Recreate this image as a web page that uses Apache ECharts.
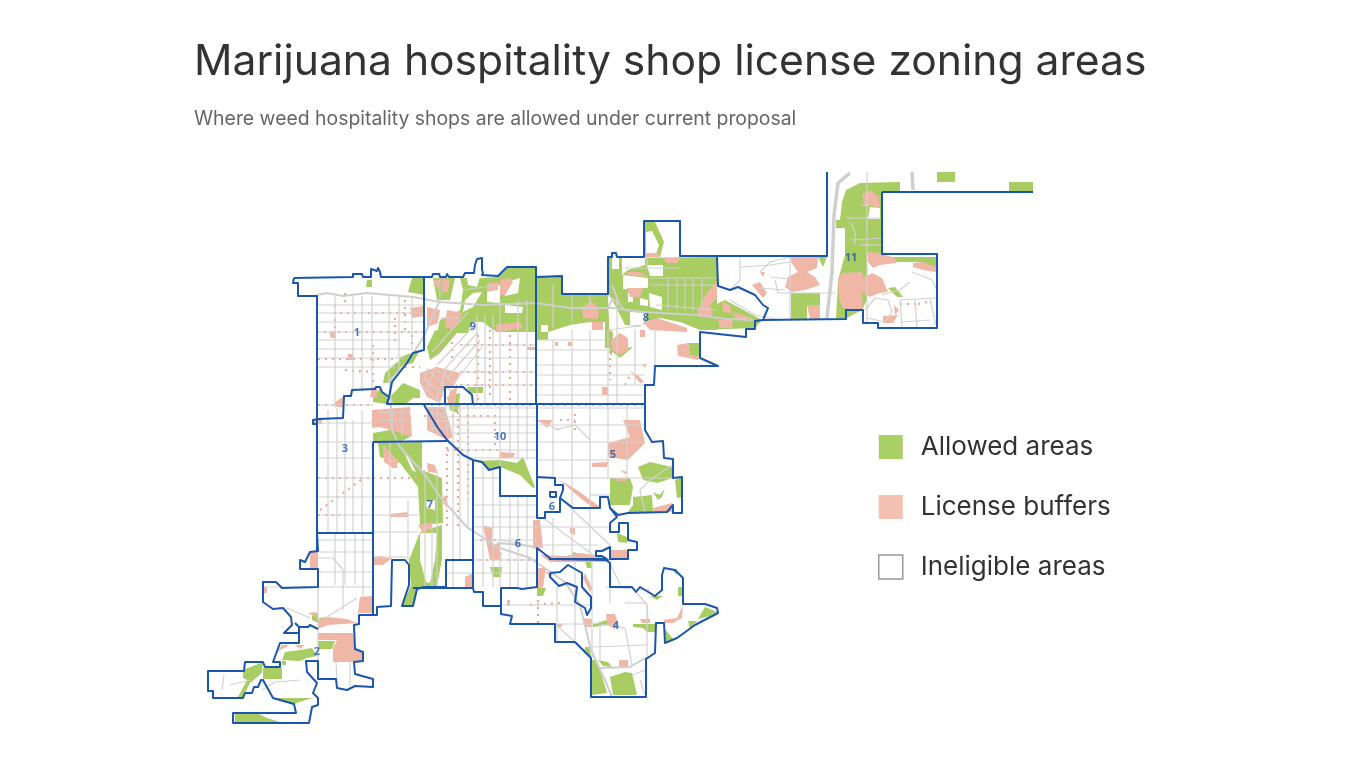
<!DOCTYPE html>
<html>
<head>
<meta charset="utf-8">
<title>Marijuana hospitality shop license zoning areas</title>
<script src="https://cdn.jsdelivr.net/npm/echarts@6/dist/echarts.min.js"></script>
<style>
html, body { margin: 0; padding: 0; background: #fff; }
#map { width: 1366px; height: 768px; }
</style>
</head>
<body>
<div id="map"></div>
<script>
var titleText = 'Marijuana hospitality shop license zoning areas';
var subText = 'Where weed hospitality shops are allowed under current proposal';
var legendNames = ['Allowed areas', 'License buffers', 'Ineligible areas'];

// map shapes: flat x,y lists in picture units
var allowedAreas = [
  // district 9 / downtown
  [408,292,412,278,424,278,424,295],
  [460,278,500,278,500,330,493,330,483,322,473,322,467,333,457,333,463,290],
  [440,320,467,307,457,333,440,353,430,360,427,347],
  [433,278,455,278,450,300,437,300],
  [400,357,420,350,413,363,397,367],
  [385,373,397,362,402,365,390,383,383,383],
  [390,397,403,383,420,390,420,398,413,398,407,403,393,403],
  [373,397,380,388,387,397,387,404,373,402],
  [367,280,372,280,372,287,366,287],
  [467,387,483,387,483,393,470,393],
  [447,397,460,393,458,413,450,410],
  [480,278,498,277,507,268,535,268,535,332,497,332,480,320],
  // district 7
  [373,433,390,430,400,420,410,437,400,442,373,442],
  [378,443,422,442,422,470,442,478,443,523,420,525,418,487,400,463,380,457],
  [409,560,420,532,442,525,442,560,437,587,417,589,413,606,402,606,411,585,409,565],
  // district 10
  [473,461,500,460,517,463,523,457,535,487,533,488,520,475,500,467,490,470,482,463],
  // district 5
  [610,478,630,478,633,487,630,505,610,505],
  [633,497,652,495,653,512,628,512,633,505],
  [638,467,650,462,672,467,672,478,658,483,643,480],
  [675,480,682,477,682,497,677,498],
  [653,492,660,495,665,488,662,497,658,500],
  [617,533,627,537,627,543,618,542],
  // district 8
  [537,277,562,277,562,295,608,295,610,348,605,348,605,328,590,322,570,325,548,332,548,340,537,340],
  [609,258,717,257,717,330,700,330,680,322,660,318,640,326,625,325,615,305,609,295],
  [700,312,725,300,762,320,755,328,700,330],
  [645,222,655,222,664,242,660,257,645,257],
  [688,343,700,343,700,357,690,355],
  [608,330,613,332,612,355,610,355],
  [610,350,633,347,620,358],
  // district 11
  [846,190,860,183,900,182,900,192,882,192,882,255,867,255,867,300,862,310,845,319,836,319,838,280,845,255,845,228,836,228,836,220,840,220,842,202],
  [937,172,955,172,955,182,937,182],
  [1009,182,1033,182,1033,191,1009,191],
  [791,293,820,293,820,305,807,305,807,319,791,319],
  [818,257,827,257,823,267],
  [890,257,936,257,936,272,920,262,897,262],
  [888,288,895,287,903,297,897,297],
  // district 2
  [282,660,285,652,300,650,312,648,317,656,307,658,300,661],
  [318,641,335,641,332,649,318,649],
  [312,613,318,613,318,623,312,620],
  [319,618,327,617,320,621],
  [263,668,282,668,282,679,263,679],
  [243,670,263,662,262,673,250,683,243,697,238,697,247,680,243,678],
  [275,698,313,698,296,703,294,705],
  [235,713,257,713,267,718,280,722,235,722],
  [282,661,286,661,286,665,282,665],
  // district 4
  [592,660,597,660,607,693,592,695],
  [610,677,625,672,632,673,637,695,613,695],
  [598,660,608,662,612,667,603,666],
  [585,647,590,647,591,657,584,653],
  [593,624,607,620,607,625,593,627],
  [633,624,655,624,655,632,647,632,643,628,633,627],
  [664,628,673,639,666,642],
  [688,621,697,621,690,629],
  [698,619,705,607,717,612,710,616],
  [678,587,683,587,683,596,678,596],
  [671,569,677,569,677,575],
  [650,596,663,596,657,600],
  [573,552,590,557,592,568,587,568,585,560,573,557],
  [537,587,546,588,543,596,537,596],
  [490,567,502,567,501,577,493,577]
];

// holes left inside the green areas
var ineligiblePatches = [
  [612,258,619,258,619,269,612,269],
  [622,258,645,258,645,265,628,270,622,275],
  [647,265,663,265,663,276,650,276],
  [623,275,648,278,648,288,623,289],
  [649,293,662,297,662,310,650,307],
  [630,312,647,313,643,325,630,325],
  [628,293,633,293,633,302,628,302],
  [640,298,648,300,648,306,640,305],
  [646,232,652,231,659,245,656,254,646,255],
  [420,533,437,533,435,560,430,583,426,582,420,560],
  [442,530,446,530,446,587,437,587,442,560],
  [426,502,435,500,435,510,427,508],
  [404,452,409,458,416,472,412,470],
  [870,207,880,208,880,219,868,219],
  [467,278,480,277,477,287,468,285],
  [473,293,482,292,473,307,463,312,465,300],
  [487,287,500,285,500,303,487,302],
  [428,314,440,318,438,330,430,332],
  [379,420,387,420,387,430,379,430],
  [503,283,520,278,518,293,505,296],
  [505,305,523,307,522,313,505,313],
  [653,486,660,482,668,484,664,490,656,494],
  [612,312,618,312,618,320,612,320],
  [600,322,605,322,605,330,600,330],
  [541,325,548,325,548,332,541,332],
  [813,305,818,305,818,312,813,311]
];

var bufferAreas = [
  // district 1 / 9
  [447,310,463,313,453,330,445,327],
  [427,307,440,310,438,323,427,327],
  [433,280,440,280,438,290],
  [442,278,450,280,448,292,442,292],
  [487,283,498,282,498,290,487,292],
  [500,280,510,278,513,282,505,295,500,295],
  [495,325,520,322,523,328,497,332],
  [420,373,437,367,460,373,453,387,445,387,440,403,427,397,420,383],
  [427,407,445,407,453,437,447,440,427,430],
  [450,390,457,388,455,405,447,405],
  [372,410,410,407,412,437,397,432,380,427,372,428],
  [335,402,343,397,343,407,335,407],
  [372,387,377,388,377,398,370,397],
  [329,332,336,331,336,338,331,338],
  [348,354,353,354,353,360,348,360],
  [410,308,424,306,424,316,412,318],
  [383,445,391,453,399,462,393,468,384,462],
  [314,420,322,419,322,424,314,424],
  // district 7 / 3
  [427,463,435,465,437,473,428,472],
  [443,497,447,495,447,508,443,503],
  [388,462,395,458,398,468,392,468],
  [418,525,432,522,432,528,423,533],
  [310,552,318,552,318,568,310,568],
  [374,557,383,556,380,565,374,565],
  [375,557,392,558,383,565,375,565],
  [390,514,408,512,408,517,390,517],
  // district 6
  [483,525,492,528,492,547,502,553,500,560,490,560],
  [465,578,473,578,473,587,465,587],
  [533,520,540,520,543,548,533,547],
  [570,528,575,528,575,535,570,533],
  [540,555,565,556,580,553,607,557,607,562,550,562],
  [538,568,546,568,543,587,538,587],
  [546,572,555,572,550,578],
  [465,577,473,573,473,587,465,587],
  [490,547,500,542,500,560,490,560],
  [585,573,592,588,590,592,583,578],
  [507,600,510,600,510,606,507,606],
  // district 5
  [623,420,640,420,645,443,628,460,608,457,608,443,630,437],
  [592,463,608,462,607,467,592,467],
  [538,420,553,420,547,428],
  [560,480,577,490,600,507,593,508,573,492],
  [610,550,628,550,627,559,610,559],
  [615,478,628,478,626,481,617,481],
  [653,508,672,503,672,512,654,512],
  [620,470,628,472,625,474],
  [500,452,515,453,513,458,500,458],
  // district 8
  [582,308,591,301,599,308,598,319,583,318],
  [611,340,620,333,628,338,628,350,620,355,612,350],
  [627,288,643,288,640,297,630,297],
  [627,272,640,272,648,277,627,275],
  [663,258,680,258,677,263,667,263],
  [592,322,603,322,603,330,592,330],
  [697,312,707,292,717,282,717,298,710,305,713,315,700,317],
  [718,320,733,320,732,328,720,328],
  [722,302,730,305,732,313,723,312],
  [733,312,753,318,737,320],
  [643,322,657,318,687,328,687,332,650,330],
  [645,253,658,253,660,257,645,257],
  [527,347,535,347,535,350,527,350],
  [640,330,645,330,645,337,640,337],
  [642,364,647,364,645,368],
  [632,373,638,375,644,382,640,383],
  [602,387,608,387,608,395,602,395],
  [677,345,688,343,690,355,700,357,698,360,678,356],
  [555,342,558,342,558,346,555,346],
  [568,342,572,342,572,346,568,346],
  [760,272,765,272,763,277],
  [752,285,760,282,767,293,763,298],
  // district 11
  [791,257,818,257,817,268,807,272,815,277,820,285,805,290,792,292,785,287,788,277,798,272,791,262],
  [838,280,842,273,862,272,863,278,872,273,882,278,888,292,880,293,870,297,862,292,863,310,842,308,839,298],
  [868,252,880,253,895,258,897,263,880,265,873,268,868,262],
  [913,263,923,262,936,267,936,272,923,270,913,267],
  [862,195,870,190,879,197,880,208,870,205,865,207],
  [807,305,820,305,820,319,810,319],
  [883,316,898,315,893,323,883,323],
  [894,305,899,310,895,315],
  // district 2 / 3 south
  [318,633,353,633,355,649,363,652,363,661,350,662,333,662,333,648,337,640,318,640],
  [360,597,372,596,372,613,358,613],
  [318,620,328,617,347,619,357,623,343,624,328,625,318,629],
  [308,613,315,612,317,618],
  [273,658,282,645,290,645,280,650],
  [295,645,305,645,300,649],
  [263,587,267,587,267,593,263,593],
  // district 4
  [606,614,615,614,618,623,615,629,607,625],
  [640,619,650,619,650,623,642,623],
  [663,620,677,618,683,605,682,618,673,623,665,623],
  [619,660,628,660,628,667,619,667],
  [582,618,592,619,592,627,585,627],
  [556,624,563,624,560,628]
];

// dashed pink dabs along commercial streets
var bufferStrips = [
  [317,332,424,332],[340,313,420,313],[318,359,365,359],[370,359,395,359],[335,305,335,335],
  [373,345,373,392],[395,318,395,345],[318,405,372,405],[405,300,405,330],[412,335,412,350],
  [318,478,373,478],[320,510,365,477],[373,517,373,560],[373,478,420,478],[398,367,420,367],
  [447,440,447,530],[458,405,458,530],[468,415,468,500],[424,416,500,416],[447,450,500,450],
  [478,335,478,400],[490,330,490,400],[510,335,510,400],[460,345,536,345],[460,372,536,372],
  [460,385,536,385],[424,405,645,405],[480,540,500,540],[465,560,537,560],
  [495,415,495,450],[560,420,575,420],[610,330,610,380],[625,385,632,372],[900,304,918,304],
  [918,304,932,301],[530,605,560,603],[538,600,538,624],[318,515,340,515],[345,370,372,372],
  [440,343,440,353],[452,335,452,360],[500,310,500,322],[575,430,575,410],[345,293,345,305]
];

var roadLines = [
  // street grid, district 1
  [335,296,335,405],[353,296,353,392],[362,296,362,392],[372,296,372,388],[389,296,389,382],[399,296,399,370],[412,296,412,350],
  [317,305,424,305],[317,313,424,313],[317,322,424,322],[317,332,424,332],[317,340,400,340],[317,349,410,349],[317,358,405,358],[317,367,395,367],[317,405,373,405],
  // district 3
  [328,410,328,533],[337,408,337,533],[345,420,345,533],[353,420,353,533],[362,410,362,533],
  [318,423,373,423],[318,442,373,442],[318,458,373,458],[318,478,373,478],[318,497,373,497],[318,515,373,515],
  // district 2
  [335,533,335,585],[345,533,345,585],[355,533,355,585],[363,533,363,597],[318,540,373,540],[318,552,373,552],[318,572,373,572],
  [263,587,372,587],[318,558,333,558,343,570,343,610],[318,587,318,680],[287,608,310,618],[327,617,357,598],[336,662,337,680],[350,662,350,686],
  [262,690,275,682,300,680],[224,675,222,690],[230,685,250,680],
  // district 7
  [390,443,390,560],[408,500,408,560],[373,497,418,497],[373,515,418,515],[373,532,418,532],[373,557,408,557],
  [425,470,425,587],[432,525,432,587],[437,470,437,587],
  // district 10 / 6
  [453,405,453,587],[460,405,460,560],[468,405,468,530],[483,462,483,587],[493,470,493,587],[500,405,500,467],[500,496,500,587],[510,405,510,457],[510,496,510,587],[518,405,518,460],[518,496,518,587],[527,405,527,460],[527,496,527,587],
  [424,408,536,408],[440,417,536,417],[445,425,536,425],[450,433,536,433],[447,442,536,442],[462,450,536,450],[470,458,536,458],[473,478,500,478],[473,505,537,505],[473,517,537,517],[473,527,537,527],[473,540,537,540],[446,560,537,560],[446,573,537,573],
  [500,540,525,545,537,548],
  // downtown blocks
  [424,378,446,398],[430,372,452,392],[436,369,458,386],[422,386,440,402],[428,368,422,384],[436,366,426,392],[446,370,436,400],[432,410,432,432],[438,410,438,436],[444,410,448,438],[427,414,447,414],[427,421,450,421],[430,428,452,428],
  [378,412,410,412],[378,420,410,420],[392,408,392,432],[402,408,402,436],
  // district 5
  [553,405,553,478],[572,405,572,495],[590,405,590,505],[608,405,608,478],[627,405,627,478],
  [537,408,645,408],[537,425,645,425],[537,442,645,442],[537,460,610,460],[537,478,673,478],[590,495,610,495],[645,512,640,490,650,480,672,465],
  [555,430,575,425,590,440],[535,420,560,430],
  // south of the highway, district 8
  [553,340,553,405],[572,330,572,405],[590,330,590,405],[608,330,608,405],[617,355,617,405],[635,330,635,385],[655,330,655,366],
  [537,340,605,340],[537,350,608,350],[537,365,645,365],[537,375,645,375],[537,385,645,385],[537,395,645,395],[608,330,640,326],
  // district 9
  [477,315,477,405],[485,315,485,405],[493,315,493,405],[500,300,500,405],[518,300,518,405],[527,300,527,405],
  [460,345,536,345],[460,358,536,358],[460,372,536,372],[460,385,536,385],[424,318,460,318],[440,272,440,302],
  [437,365,475,325],[442,372,478,332],[448,377,480,340],[455,382,482,347],[432,352,468,312],[463,290,500,285],
  // district 8 north
  [668,278,668,310],[677,278,677,310],[685,278,685,310],[693,278,693,310],[702,278,702,310],[650,278,716,278],[650,285,716,285],[656,305,716,310],
  [553,285,553,328],[572,295,572,322],[590,295,590,305],[617,298,617,355],[608,295,628,312],[647,257,647,268],[625,268,680,268],
  // districts 8 and 11, east
  [740,257,740,280,730,290],[740,267,770,265,790,262],[760,272,770,262,790,257],[730,300,755,315,780,320],[770,277,790,279],[760,288,785,290],[775,280,778,293,791,293],
  [790,257,790,319],[790,293,835,293],[867,172,867,322],[845,218,882,218],[850,222,855,232,855,245],[860,245,882,245],[850,240,882,238],[862,205,870,205],
  [882,295,900,290,910,282],[912,272,932,280,937,290],[930,300,936,325],[865,310,875,298,888,300,892,312,885,322,868,318],
  [900,300,937,298],[900,300,902,328],[915,300,917,328],[900,322,930,320],
  // district 4
  [557,587,557,642],[592,560,592,658],[575,560,575,640],[610,587,610,603],[647,605,647,657],[501,605,590,605],[510,624,592,624],
  [593,623,625,628,632,665],[593,647,647,645],[625,603,647,603],[637,593,647,605,648,620],[555,624,575,642],[640,680,645,695],[632,675,646,670],[600,625,600,660],
  [605,587,650,590],[610,563,620,585],
  // district 6 east
  [543,518,600,560],[560,498,610,545],[572,495,572,560],[590,505,590,555],[537,527,610,527],[537,545,598,545],[553,518,553,558]
];

var highwayLines = [
  [850,173,838,183,834,215,832,272,827,318],
  [912,172,913,190]
];
var motorwayLines = [
  [536,303,570,308,613,308,643,312,697,315,727,319,753,320],
  [317,295,327,293,343,296,367,293,413,297,440,302,483,305,536,303],
  [387,383,407,363,423,338,440,300],
  [390,383,392,430,400,447,427,477,440,497],
  [440,497,467,527,497,547,530,558,565,582,580,605,591,650,605,680,612,697],
  [497,543,530,546,540,550],
  [600,668,630,667,647,657],
  [608,308,613,298],[612,285,620,305]
];

var districtLines = [
  // outer edge, west then south
  [294,278,293,283,298,283,298,296,317,296,317,551],
  [318,424,313,424,313,420,318,419,343,418,344,396,351,396,352,390,375,389,376,387,380,387,382,392,389,397,387,404],
  [317,533,318,551,310,552,305,562,300,560,300,569,318,569,318,587,282,588,276,582,263,582,263,602,273,609,283,608,291,617,292,625,284,633,299,633,299,643,280,643,273,662,280,662,280,667,265,667,263,662,245,662,244,671,208,671,208,691,213,691,213,698,243,698,245,693,252,693,254,687,258,687,261,680,263,680,273,698,294,704,296,713,233,713,233,723,309,723,312,707,318,705,318,698,313,693,317,683,307,672,306,661,318,661,318,679,336,679,337,688,347,690,355,686,373,687,373,679,355,674,354,662,363,661,363,652,355,649,354,625,359,624,359,615,377,615,377,607,391,606,392,560,405,560,409,565,409,585,402,606,413,606,417,589,424,587,446,587,446,560,473,560],
  [295,623,299,627,308,627,310,625,318,629],
  [299,627,299,633],
  [413,588,473,588,474,592,483,592,483,606,501,606,501,614,512,616,510,624,555,624,555,642,575,642,591,658,591,697,646,697,646,659,655,653,656,623,664,623,665,643,677,638,695,625,718,613,717,608,705,604,683,604,683,578,675,570,664,568,662,575,662,590,655,596,640,587,636,592,632,587,610,587,610,563,605,559,551,559,537,548,537,587,522,589,517,588,501,588,501,606],
  // top edge
  [294,278,353,277,353,274,362,274,363,277,371,277,371,269,377,271,378,268,380,272,381,277,432,277,433,274,439,274,440,277,446,277,447,274,449,277,463,277,465,273,474,273,475,265,477,259,482,258,482,270,483,273,482,275,498,276,507,267,536,267,536,405],
  [536,277,562,276,562,294,608,294,608,257,612,257,612,253,616,253,617,257,644,257,644,221,680,221,680,256,827,256,827,172],
  [882,192,1033,192],
  [882,192,882,254,937,254,937,328,878,328,878,323,863,323,863,310,846,310,846,319,763,320,755,321,755,329,746,329,746,337,700,332,700,358,718,366,655,366,654,385,645,385,645,430,652,442,663,441,664,458,673,459,673,478,682,477,682,513,673,513,673,505,667,512,628,513,618,515,610,508,608,497,600,497,600,508,573,508,560,498,560,512,545,512,545,518,537,518,537,403],
  [717,257,718,286,730,290,738,287,755,295,763,305,768,308,763,320],
  // inner district lines
  [424,278,424,350,413,353,407,363,392,382,389,397,387,404,645,404],
  [445,404,445,387,463,387,472,395,473,405],
  [424,405,438,428,447,440,463,455,473,460,482,462,489,470,500,467,500,496,537,496],
  [373,442,447,441],
  [373,442,373,615],
  [318,533,373,533],
  [473,460,473,588],
  [446,560,446,587],
  [537,477,555,478,555,485,563,485,563,490,560,498],
  [610,508,617,517,610,523,610,532,619,532,619,523,628,523,628,540,637,542,637,550,628,550,628,559,610,559,610,547,602,551,596,551,596,556,602,556,608,560,549,559],
  [550,573,560,572,568,565,582,573,582,587,591,597,591,608,587,615,585,608,575,602,577,587,567,583,559,586,550,577,550,573],
  [550,497,556,497,556,492,550,492,550,497],
  [537,587,537,548]
];

var districtLabels = [
  ['1', 357, 333], ['2', 317, 652], ['3', 345, 449], ['4', 616, 626],
  ['5', 613, 455], ['6', 518, 544], ['6', 552, 507], ['7', 430, 505],
  ['8', 646, 318], ['9', 473, 327], ['10', 500, 437], ['11', 851, 258]
];

function toPoints(flat, api) {
  var pts = [];
  for (var i = 0; i < flat.length; i += 2) {
    pts.push(api.coord([flat[i], flat[i + 1]]));
  }
  return pts;
}

// one custom series per layer, each item is an index into its list
function polygonSeries(name, list, color) {
  return {
    name: name,
    type: 'custom',
    coordinateSystem: 'cartesian2d',
    clip: false,
    silent: true,
    itemStyle: { color: color },
    data: list.map(function (d, i) { return [i, 0]; }),
    renderItem: function (params, api) {
      return {
        type: 'polygon',
        shape: { points: toPoints(list[api.value(0)], api) },
        style: { fill: color, stroke: null }
      };
    }
  };
}

function lineSeries(name, list, color, width, dash) {
  return {
    name: name,
    type: 'custom',
    coordinateSystem: 'cartesian2d',
    clip: false,
    silent: true,
    itemStyle: { color: color },
    data: list.map(function (d, i) { return [i, 0]; }),
    renderItem: function (params, api) {
      return {
        type: 'polyline',
        shape: { points: toPoints(list[api.value(0)], api) },
        style: { fill: null, stroke: color, lineWidth: width, lineDash: dash || null, lineJoin: 'round' }
      };
    }
  };
}

var chart = echarts.init(document.getElementById('map'));

var option = {
  animation: false,
  backgroundColor: '#fff',
  title: [
    {
      text: titleText, left: 194, top: 41, padding: 0,
      textStyle: { fontFamily: 'Inter', fontSize: 42.6, fontWeight: 400, color: '#333' }
    },
    {
      text: subText, left: 194, top: 110, padding: 0,
      textStyle: { fontFamily: 'Inter', fontSize: 19.4, fontWeight: 400, color: '#666' }
    }
  ],
  legend: {
    orient: 'vertical', left: 878, top: 434, padding: 0,
    itemWidth: 24, itemHeight: 24, itemGap: 34, icon: 'rect',
    selectedMode: false,
    textStyle: { fontFamily: 'Inter', fontSize: 26, lineHeight: 24, color: '#333', padding: [0, 0, 0, 13] },
    data: [
      { name: legendNames[0], itemStyle: { color: '#a9cf66' } },
      { name: legendNames[1], itemStyle: { color: '#f3c0b2' } },
      { name: legendNames[2], itemStyle: { color: '#fff', borderColor: '#999', borderWidth: 1.5 } }
    ]
  },
  grid: { left: 0, right: 0, top: 0, bottom: 0 },
  xAxis: { type: 'value', min: 0, max: 1366, show: false },
  yAxis: { type: 'value', min: 0, max: 768, inverse: true, show: false },
  series: [
    polygonSeries(legendNames[0], allowedAreas, '#a8cd62'),
    polygonSeries(legendNames[2], ineligiblePatches, '#fff'),
    lineSeries('Road dabs', bufferStrips, '#e9a898', 2.2, [2, 5]),
    polygonSeries(legendNames[1], bufferAreas, '#f0b7a7'),
    lineSeries('Streets', roadLines, '#d2d2d2', 1.2),
    lineSeries('Highways', highwayLines, '#cfcfcf', 3.5),
    lineSeries('Motorways', motorwayLines, '#cfcfcf', 2),
    lineSeries('Districts', districtLines, '#1a56ab', 2),
    {
      name: 'District numbers',
      type: 'scatter',
      symbolSize: 0,
      silent: true,
      data: districtLabels.map(function (d) { return { name: d[0], value: [d[1], d[2]] }; }),
      label: {
        show: true, position: 'inside', formatter: '{b}',
        fontFamily: 'Open Sans', fontSize: 11, fontWeight: 700, color: '#1a56ab'
      }
    }
  ]
};

chart.setOption(option);
</script>
</body>
</html>
